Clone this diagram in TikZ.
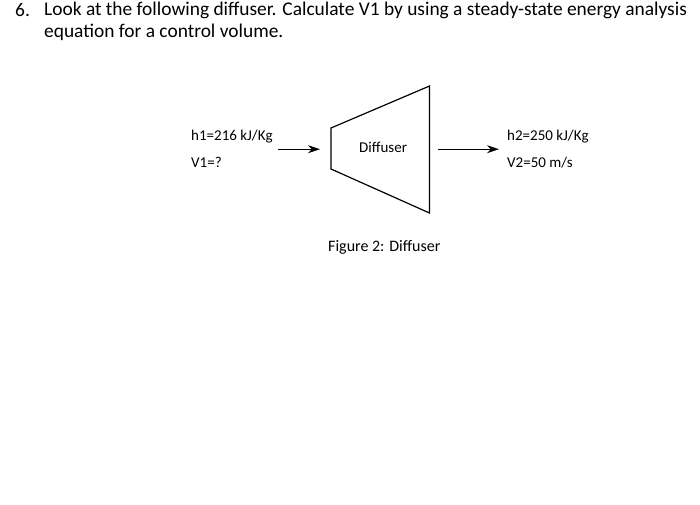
\documentclass[tikz,border=0pt]{standalone}
\usepackage{fontspec}
\setmainfont{Carlito}
\usetikzlibrary{arrows.meta,positioning,calc}
\tikzset{
  label/.style = {anchor = west, inner sep = 0pt, font = \fontsize{15}{18}\selectfont},
  body/.style = {anchor = west, inner sep = 0pt, font = \fontsize{19.4}{23}\selectfont},
  caption/.style = {anchor = west, inner sep = 0pt, font = \fontsize{16}{19}\selectfont},
  flow/.style = {-{Stealth[length = 12pt, width = 8pt]}, line width = 1.2pt}
}
\begin{document}
\begin{tikzpicture}[x = 1pt, y = -1pt]
\useasboundingbox (0,0) rectangle (700,504);
\node[body] (num) at (15,10.5) {6.};
\node[body] (line1) at (44,10.5) {Look at the following diffuser. Calculate V1 by using a steady-state energy analysis};
\node[body] (line2) at (44,32.5) {equation for a control volume.};
\coordinate (a) at (331,128);
\coordinate (b) at (429.5,86);
\coordinate (c) at (429.5,213);
\coordinate (d) at (331,169);
\draw[line width = 1.2pt] (a) -- (b) -- (c) -- (d) -- cycle;
\node[label] (diff) at (359,147) {Diffuser};
\node[label] (h1) at (191,136.5) {h1=216 kJ/Kg};
\node[label] (v1) at (191,162.5) {V1=?};
\node[label] (h2) at (507,137) {h2=250 kJ/Kg};
\node[label] (v2) at (507,162.5) {V2=50 m/s};
\coordinate (in1) at (278,149.2);
\coordinate (in2) at (320,149.2);
\coordinate (out1) at (438,149.2);
\coordinate (out2) at (499,149.2);
\draw[flow] (in1) -- (in2);
\draw[flow] (out1) -- (out2);
\node[caption] (fig) at (328,247) {Figure 2: Diffuser};
\end{tikzpicture}
\end{document}
